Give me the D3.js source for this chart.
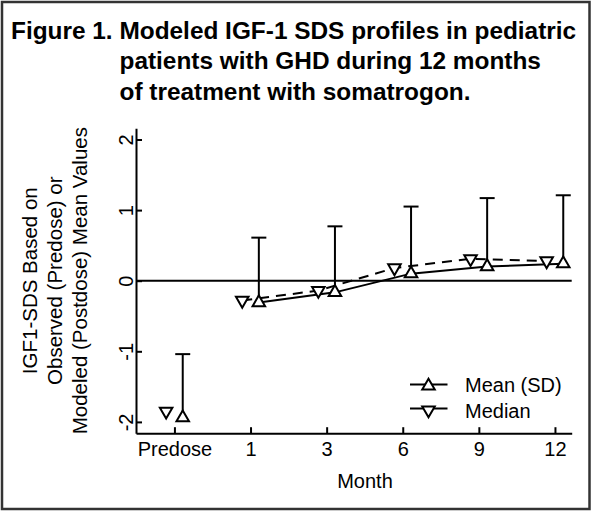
<!DOCTYPE html>
<html lang="en">
<head>
    <meta charset="UTF-8">
    <title>Figure 1</title>
    <script src="https://cdn.jsdelivr.net/npm/d3@7"></script>
    <style>
        body { margin: 0; background: #fff; }
        svg text { font-family: "Liberation Sans", Arial, Helvetica, sans-serif; fill: #000; }
        .axis path, .axis line { fill: none; stroke: #000; stroke-width: 2; }
        .axis text { font-size: 20px; }
    </style>
</head>
<body>
<script>
// data
let categories = ["Predose", "1", "3", "6", "9", "12"]
let meanValues = [-1.94, -0.31, -0.165, 0.10, 0.20, 0.24]
let meanPlusSD = [-1.04, 0.61, 0.77, 1.05, 1.17, 1.21]
let medianValues = [-1.85, -0.28, -0.14, 0.18, 0.31, 0.28]
let yTicks = [-2, -1, 0, 1, 2]
let titleLines = ["Figure 1. Modeled IGF-1 SDS profiles in pediatric",
                  "patients with GHD during 12 months",
                  "of treatment with somatrogon."]
let yLabelLines = ["IGF1-SDS Based on", "Observed (Predose) or", "Modeled (Postdose) Mean Values"]

let w = 592, h = 512, offset = 8.3

let svg = d3.select("body").append("svg")
    .attr("width", w)
    .attr("height", h)

// frame
svg.append("rect")
    .attr("x", 2).attr("y", 2)
    .attr("width", w - 4.5).attr("height", h - 5)
    .attr("fill", "none")
    .attr("stroke", "#333")
    .attr("stroke-width", 2.5)

// title
svg.append("g").selectAll("text")
    .data(titleLines)
    .enter()
    .append("text")
    .attr("x", (d, i) => i == 0 ? 11 : 119.5)
    .attr("y", (d, i) => 38.5 + i * 30.5)
    .attr("font-size", "24.4px")
    .attr("font-weight", "bold")
    .text(d => d)

let xScale = d3.scaleLinear().domain([-0.505, 5.22]).range([136, 571.7])
let yScale = d3.scaleLinear().domain([-2.16, 2.16]).range([433.2, 128.2])

let xAxis = d3.axisBottom(xScale)
    .tickValues(d3.range(categories.length))
    .tickFormat(i => categories[i])
    .tickSizeInner(-6).tickSizeOuter(0).tickPadding(9)

let yAxis = d3.axisLeft(yScale)
    .tickValues(yTicks)
    .tickFormat(d => String(d))
    .tickSizeInner(-6).tickSizeOuter(0).tickPadding(3)

svg.append("g")
    .attr("class", "axis")
    .attr("transform", "translate(0," + yScale(-2.16) + ")")
    .call(xAxis)

let gy = svg.append("g")
    .attr("class", "axis")
    .attr("transform", "translate(" + xScale(-0.505) + ",0)")
    .call(yAxis)

gy.selectAll(".tick text")
    .attr("x", null).attr("dy", null)
    .attr("text-anchor", "middle")
    .attr("transform", "translate(-3,0) rotate(-90)")
    .attr("font-size", "19px")

// zero reference line
svg.append("line")
    .attr("x1", xScale(-0.505)).attr("x2", xScale(5.22))
    .attr("y1", yScale(0)).attr("y2", yScale(0))
    .attr("stroke", "#000").attr("stroke-width", 2)

// axis titles
svg.append("text")
    .attr("x", 365).attr("y", 488)
    .attr("text-anchor", "middle")
    .attr("font-size", "20px")
    .text("Month")

svg.append("g").selectAll("text")
    .data(yLabelLines)
    .enter()
    .append("text")
    .attr("text-anchor", "middle")
    .attr("transform", (d, i) => "translate(" + (37 + i * 25) + "," + yScale(0) + ") rotate(-90)")
    .attr("font-size", "20.5px")
    .text(d => d)

let idx = d3.range(categories.length)

// error bars (upper only)
let eb = svg.append("g").attr("stroke", "#000").attr("stroke-width", 2)
eb.selectAll(".stem")
    .data(idx)
    .enter()
    .append("line")
    .attr("x1", i => xScale(i) + offset).attr("x2", i => xScale(i) + offset)
    .attr("y1", i => yScale(meanValues[i])).attr("y2", i => yScale(meanPlusSD[i]))
eb.selectAll(".cap")
    .data(idx)
    .enter()
    .append("line")
    .attr("x1", i => xScale(i) + offset - 7.5).attr("x2", i => xScale(i) + offset + 7.5)
    .attr("y1", i => yScale(meanPlusSD[i])).attr("y2", i => yScale(meanPlusSD[i]))

// lines (postdose only)
let post = idx.slice(1)
let meanLine = d3.line().x(i => xScale(i) + offset).y(i => yScale(meanValues[i]))
let medianLine = d3.line().x(i => xScale(i) - offset).y(i => yScale(medianValues[i]))

svg.append("path")
    .datum(post)
    .attr("d", meanLine)
    .attr("fill", "none").attr("stroke", "#000").attr("stroke-width", 2)

svg.append("path")
    .datum(post)
    .attr("d", medianLine)
    .attr("fill", "none").attr("stroke", "#000").attr("stroke-width", 2)
    .attr("stroke-dasharray", "10,7")

let tri = d3.symbol().type(d3.symbolTriangle).size(68)

svg.selectAll(".median")
    .data(idx)
    .enter()
    .append("path")
    .attr("d", tri)
    .attr("transform", i => "translate(" + (xScale(i) - offset) + "," + yScale(medianValues[i]) + ") rotate(180)")
    .attr("fill", "#fff").attr("stroke", "#000").attr("stroke-width", 2)

svg.selectAll(".mean")
    .data(idx)
    .enter()
    .append("path")
    .attr("d", tri)
    .attr("transform", i => "translate(" + (xScale(i) + offset) + "," + yScale(meanValues[i]) + ")")
    .attr("fill", "#fff").attr("stroke", "#000").attr("stroke-width", 2)

// legend
let legend = [{ name: "Mean (SD)", rot: 0, y: 384.5, ty: 391.5 },
              { name: "Median", rot: 180, y: 408.5, ty: 418 }]
let lg = svg.append("g")
lg.selectAll("line")
    .data(legend)
    .enter()
    .append("line")
    .attr("x1", 410).attr("x2", 447.5)
    .attr("y1", d => d.y).attr("y2", d => d.y)
    .attr("stroke", "#000").attr("stroke-width", 2)
lg.selectAll("path")
    .data(legend)
    .enter()
    .append("path")
    .attr("d", tri)
    .attr("transform", d => "translate(428.5," + (d.y + 1.5) + ") rotate(" + d.rot + ")")
    .attr("fill", "#fff").attr("stroke", "#000").attr("stroke-width", 2)
lg.selectAll("text")
    .data(legend)
    .enter()
    .append("text")
    .attr("x", 465).attr("y", d => d.ty)
    .attr("font-size", "20px")
    .text(d => d.name)
</script>
</body>
</html>
